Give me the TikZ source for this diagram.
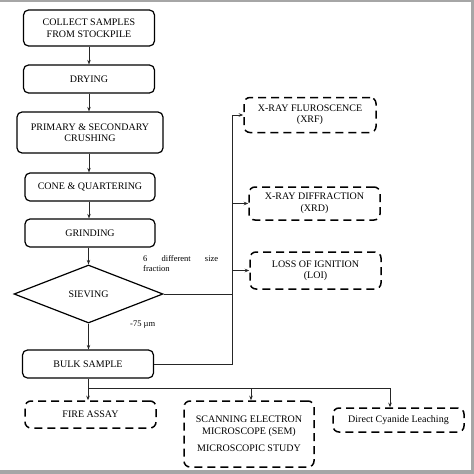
\documentclass[tikz,border=0pt]{standalone}
\usepackage{fontspec}
\setmainfont{Liberation Serif}
\usetikzlibrary{shapes.geometric,arrows.meta}
\begin{document}
\begin{tikzpicture}[x=1pt,y=-1pt,
  solidbox/.style={draw=black,line width=1.2pt,rounded corners=5pt,align=center,font=\fontsize{10}{11.5}\selectfont,inner sep=0pt},
  dashbox/.style={draw=black,line width=1.5pt,dash pattern=on 8pt off 5pt,rounded corners=6pt,align=center,font=\fontsize{10}{11.5}\selectfont,inner sep=0pt},
  conn/.style={draw=black!85,line width=0.8pt},
  arr/.style={conn,-{Stealth[length=4.5pt,width=3.5pt]}},
  lbl/.style={font=\fontsize{8.5}{10.5}\selectfont,inner sep=0pt}
]
\useasboundingbox (0,0) rectangle (474,474);
\fill[white] (0,0) rectangle (474,474);
% frame
\draw[black!35,line width=2.5pt] (0,1.2) -- (474,1.2);
\draw[black!35,line width=3pt] (472.5,0) -- (472.5,474);
\draw[black!35,line width=4pt] (0,472) -- (474,472);

% main column
\node[solidbox,minimum width=131pt,minimum height=36pt] (collect) at (89,28) {COLLECT SAMPLES\\FROM STOCKPILE};
\node[solidbox,minimum width=131pt,minimum height=28pt] (drying) at (89,79) {DRYING};
\node[solidbox,minimum width=146pt,minimum height=41pt] (crush) at (90,132.5) {PRIMARY \& SECONDARY\\CRUSHING};
\node[solidbox,minimum width=130pt,minimum height=28pt] (cone) at (90,187) {CONE \& QUARTERING};
\node[solidbox,minimum width=130pt,minimum height=28pt] (grind) at (90,233) {GRINDING};
\node[draw=black,line width=1.2pt,diamond,aspect=2.57,minimum width=149pt,minimum height=58pt,inner sep=0pt,font=\fontsize{10}{11.5}\selectfont] (sieve) at (88.5,294) {SIEVING};
\node[solidbox,minimum width=131pt,minimum height=28pt] (bulk) at (88,364) {BULK SAMPLE};

% right column
\node[dashbox,minimum width=132pt,minimum height=35pt] (xrf) at (310,115) {X-RAY FLUROSCENCE\\(XRF)};
\node[dashbox,minimum width=131pt,minimum height=33pt] (xrd) at (314.5,203.5) {X-RAY DIFFRACTION\\(XRD)};
\node[dashbox,minimum width=131pt,minimum height=37pt] (loi) at (315.5,270.5) {LOSS OF IGNITION\\(LOI)};

% bottom row
\node[dashbox,minimum width=131pt,minimum height=27pt] (fire) at (90.5,414.5) {FIRE ASSAY};
\node[dashbox,minimum width=130pt,minimum height=66pt] (sem) at (249,434) {SCANNING ELECTRON\\MICROSCOPE (SEM)\\[6pt]MICROSCOPIC STUDY};
\node[dashbox,minimum width=131pt,minimum height=24pt] (dcl) at (398.5,420) {Direct Cyanide Leaching};

% labels
\node[lbl,text width=75pt,align=justify,anchor=north west] (sizelbl) at (143,255) {6 \hfill different \hfill size\\fraction};
\node[lbl,anchor=west] (umlbl) at (130,325) {-75 µm};

% vertical arrows
\draw[arr] (collect.south -| drying.north) -- (drying.north);
\draw[arr] (drying.south) -- (drying.south |- crush.north);
\draw[arr] (crush.south -| drying.south) -- (drying.south |- cone.north);
\draw[arr] (cone.south -| drying.south) -- (drying.south |- grind.north);
\draw[arr] (grind.south -| sieve.north) -- (sieve.north);
\draw[arr] (sieve.south) -- (sieve.south |- bulk.north);

% right branch
\coordinate (vtop) at (232,115);
\coordinate (vbot) at (232,364);
\draw[conn] (sieve.east) -- (sieve.east -| vtop);
\draw[conn] (bulk.east) -- (vbot) -- (vtop);
\draw[arr] (vtop) -- (xrf.west);
\draw[arr] (vtop |- xrd.west) -- (xrd.west);
\draw[arr] (vtop |- loi.west) -- (loi.west);

% bottom branch
\coordinate (hleft) at (88,388);
\coordinate (hsem) at (251,388);
\coordinate (hdcl) at (390,388);
\draw[arr] (bulk.south) -- (bulk.south |- fire.north);
\draw[conn] (hleft) -- (hdcl);
\draw[arr] (hsem) -- (hsem |- sem.north);
\draw[arr] (hdcl) -- (hdcl |- dcl.north);
\end{tikzpicture}
\end{document}
